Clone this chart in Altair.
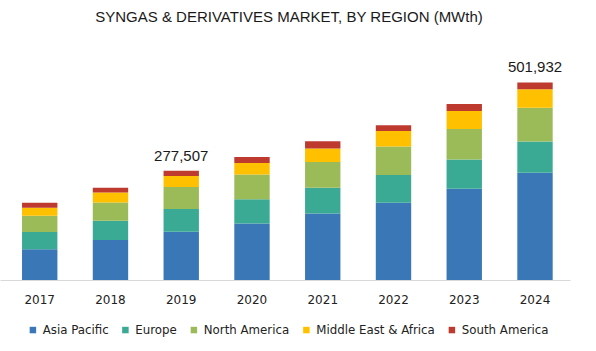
import altair as alt
import pandas as pd

years = ["2017", "2018", "2019", "2020", "2021", "2022", "2023", "2024"]
regions = ["Asia Pacific", "Europe", "North America", "Middle East & Africa", "South America"]
colors = ["#3A77B6", "#3BAA95", "#9BBB59", "#FFC000", "#BE3A2E"]

asia_pacific = [78000, 101500, 122800, 143600, 169000, 196000, 231500, 272500]
europe = [44000, 49000, 57600, 61700, 65000, 71000, 74400, 79500]
north_america = [41500, 46500, 56000, 62500, 66000, 71800, 77700, 85500]
middle_east_africa = [20300, 25400, 28000, 29600, 33800, 39700, 45600, 47300]
south_america = [12700, 11800, 13107, 15200, 18600, 14400, 17700, 17132]

label_years = ["2019", "2024"]
label_values = [277507, 501932]
label_texts = ["277,507", "501,932"]

series = [asia_pacific, europe, north_america, middle_east_africa, south_america]
rows = []
for i, (reg, vals) in enumerate(zip(regions, series)):
    for y, v in zip(years, vals):
        rows.append({"year": y, "region": reg, "value": v, "idx": i})
df = pd.DataFrame(rows)
labels_df = pd.DataFrame({"year": label_years, "total": label_values, "text": label_texts})

x_scale = alt.Scale(domain=years, paddingInner=0.5, paddingOuter=0.278, align=0.56)
y_scale = alt.Scale(domain=[0, 609600], nice=False, zero=True)

bars = alt.Chart(df).mark_bar().encode(
    x=alt.X("year:N", scale=x_scale, sort=years,
            axis=alt.Axis(title=None, labelAngle=0, ticks=False, domainColor="#d9d9d9",
                          domainWidth=1, labelFont="DejaVu Sans", labelFontSize=12,
                          labelColor="#222222", labelPadding=14, grid=False)),
    y=alt.Y("value:Q", stack="zero", scale=y_scale, axis=None),
    color=alt.Color("region:N", scale=alt.Scale(domain=regions, range=colors),
                    legend=alt.Legend(title=None, orient="none", direction="horizontal",
                                      columns=5, legendX=27, legendY=284,
                                      symbolType="square", symbolSize=42,
                                      symbolStrokeWidth=0, labelFont="DejaVu Sans",
                                      labelFontSize=11.8, labelColor="#222222",
                                      labelOffset=4, columnPadding=10.5, padding=0)),
    order=alt.Order("idx:Q", sort="ascending"),
)

texts = alt.Chart(labels_df).mark_text(
    font="Liberation Sans", fontSize=15, color="#1a1a1a", baseline="alphabetic", dy=-10
).encode(
    x=alt.X("year:N", scale=x_scale, sort=years),
    y=alt.Y("total:Q", scale=y_scale),
    text="text:N",
)

chart = alt.layer(bars, texts).properties(
    width=570, height=240,
    title=alt.TitleParams("SYNGAS & DERIVATIVES MARKET, BY REGION (MWth)",
                          font="Liberation Sans", fontSize=15, fontWeight="normal",
                          color="#1a1a1a", anchor="middle", dx=4, offset=15),
    autosize=alt.AutoSizeParams(type="none"),
    padding={"left": 0, "top": 40, "right": 26, "bottom": 71},
).configure_view(stroke=None)

chart.save("out.html", embed_options={"renderer": "svg", "actions": False})
